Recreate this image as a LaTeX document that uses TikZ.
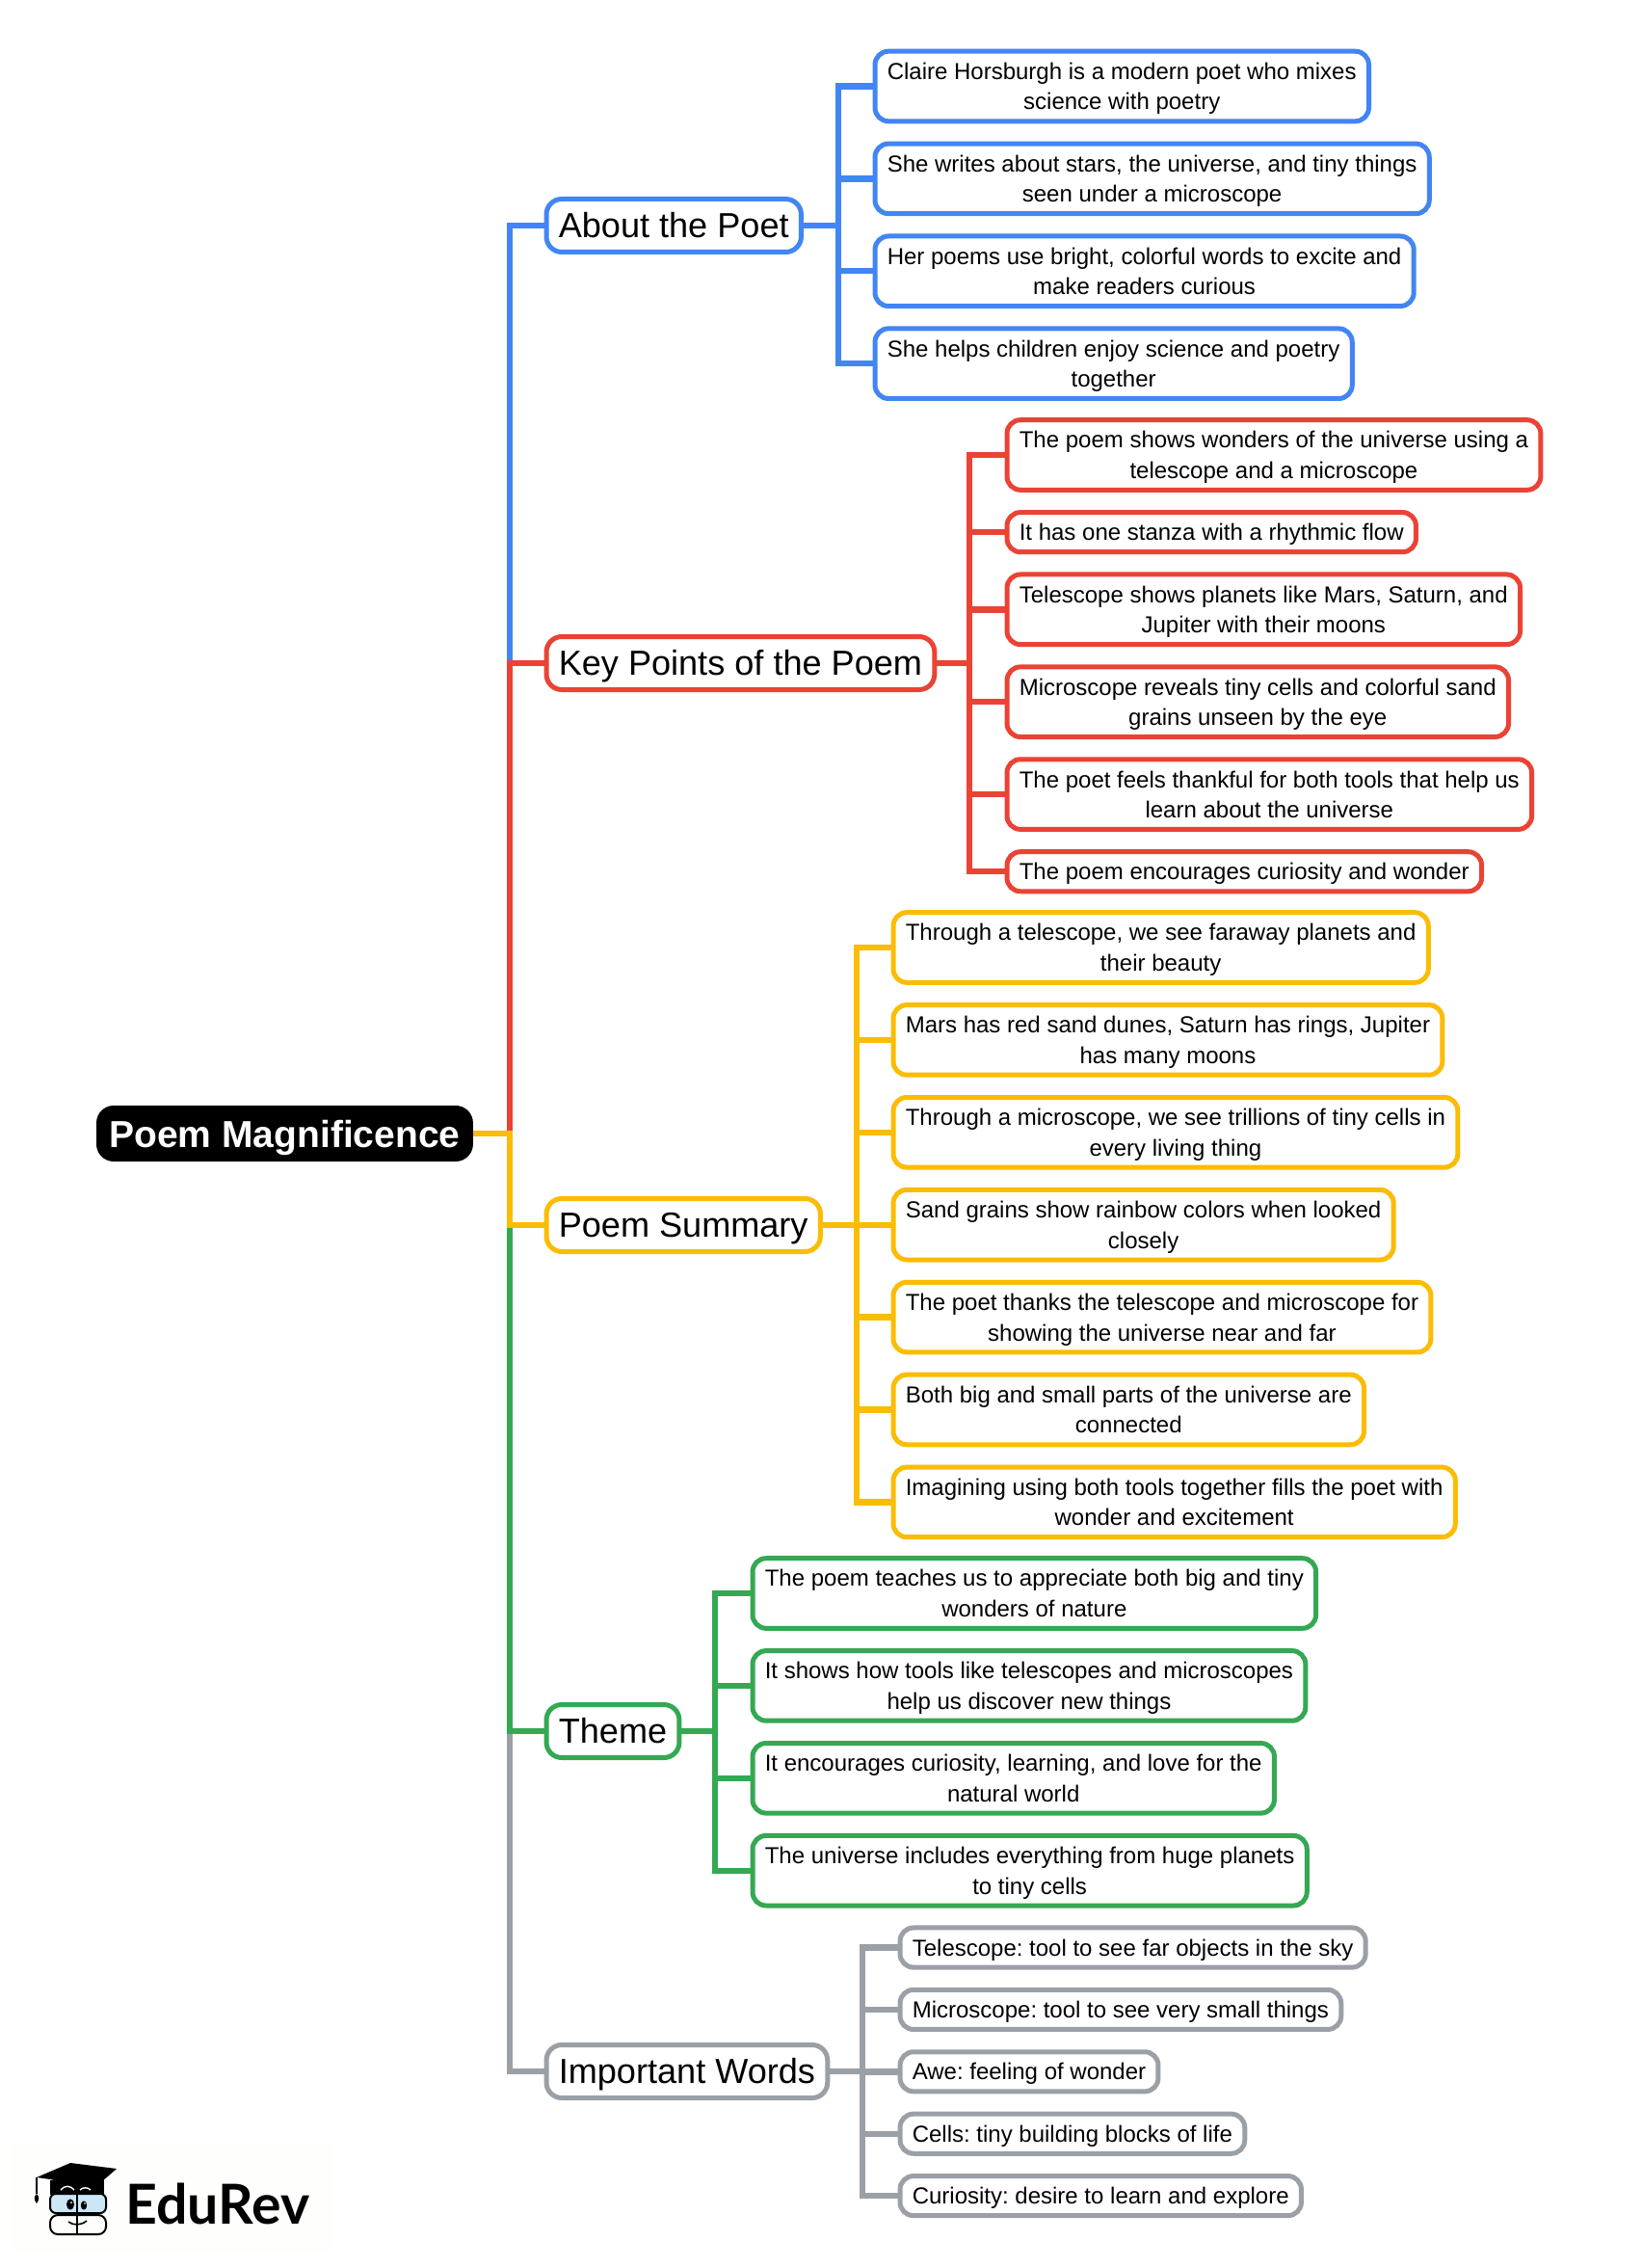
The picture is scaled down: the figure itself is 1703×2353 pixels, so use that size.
\documentclass[tikz,border=0pt]{standalone}
\usepackage{fontspec}
\setmainfont{Liberation Sans}
\newfontfamily\logofont{Lato}
\usetikzlibrary{positioning}
\definecolor{tikzBlue}{HTML}{4285F4}
\definecolor{tikzRed}{HTML}{EA4335}
\definecolor{tikzYellow}{HTML}{FBBC04}
\definecolor{tikzGreen}{HTML}{34A853}
\definecolor{tikzGrey}{HTML}{9AA0A6}
\definecolor{tikzFace}{HTML}{CBE7F6}
\definecolor{tikzPaper}{HTML}{FEFEFD}
\newcommand{\topStrut}{\rule[-3.55pt]{0pt}{15.75pt}}
\newcommand{\lowStrut}{\rule[-3.55pt]{0pt}{15.75pt}}
\newcommand{\branchStrut}{\rule[-5.6pt]{0pt}{23.5pt}}
\newcommand{\rootStrut}{\rule[-4.5pt]{0pt}{23pt}}
\tikzstyle{leaf} =[align=center, fill=white, rounded corners=7pt, line width=2.5pt, inner xsep=6.4pt, inner ysep=2.4pt, outer sep=0pt, font=\fontsize{12}{15.75}\selectfont\frenchspacing]
\tikzstyle{branch} =[anchor=west, fill=white, rounded corners=8pt, line width=2.5pt, inner xsep=6.4pt, inner ysep=2pt, outer sep=0pt, font=\fontsize{18.05}{22}\selectfont, execute at begin node=\branchStrut]
\tikzstyle{wire} =[line width=3.2pt]

\begin{document}
\begin{tikzpicture}[x=0.5pt, y=-0.5pt]
\useasboundingbox (0,0) rectangle (1703,2353);

\node (root) [anchor=west, fill=black, text=white, rounded corners=9pt, inner xsep=6.7pt, inner ysep=3pt, outer sep=0pt, font=\bfseries\fontsize{19.5}{23}\selectfont, execute at begin node=\rootStrut] at (100,1176) {Poem Magnificence};

\node (about) [branch, draw=tikzBlue] at (567,234) {About the Poet};
\node (key) [branch, draw=tikzRed] at (567,688) {Key Points of the Poem};
\node (summary) [branch, draw=tikzYellow] at (567,1271) {Poem Summary};
\node (theme) [branch, draw=tikzGreen] at (567,1796) {Theme};
\node (words) [branch, draw=tikzGrey] at (567,2149) {Important Words};

\node (aboutA) [leaf, draw=tikzBlue, anchor=west] at (908,89.5) {\topStrut Claire Horsburgh is a modern poet who mixes\\science with poetry\lowStrut};
\node (aboutB) [leaf, draw=tikzBlue, below=11.65pt of aboutA.south west, anchor=north west] {\topStrut She writes about stars, the universe, and tiny things\\seen under a microscope\lowStrut};
\node (aboutC) [leaf, draw=tikzBlue, below=11.65pt of aboutB.south west, anchor=north west] {\topStrut Her poems use bright, colorful words to excite and\\make readers curious\lowStrut};
\node (aboutD) [leaf, draw=tikzBlue, below=11.65pt of aboutC.south west, anchor=north west] {\topStrut She helps children enjoy science and poetry\\together\lowStrut};

\node (keyA) [leaf, draw=tikzRed, anchor=west] at (1045,472) {\topStrut The poem shows wonders of the universe using a\\telescope and a microscope\lowStrut};
\node (keyB) [leaf, draw=tikzRed, below=11.65pt of keyA.south west, anchor=north west] {\topStrut It has one stanza with a rhythmic flow};
\node (keyC) [leaf, draw=tikzRed, below=11.65pt of keyB.south west, anchor=north west] {\topStrut Telescope shows planets like Mars, Saturn, and\\Jupiter with their moons\lowStrut};
\node (keyD) [leaf, draw=tikzRed, below=11.65pt of keyC.south west, anchor=north west] {\topStrut Microscope reveals tiny cells and colorful sand\\grains unseen by the eye\lowStrut};
\node (keyE) [leaf, draw=tikzRed, below=11.65pt of keyD.south west, anchor=north west] {\topStrut The poet feels thankful for both tools that help us\\learn about the universe\lowStrut};
\node (keyF) [leaf, draw=tikzRed, below=11.65pt of keyE.south west, anchor=north west] {\topStrut The poem encourages curiosity and wonder};

\node (sumA) [leaf, draw=tikzYellow, anchor=west] at (927,983) {\topStrut Through a telescope, we see faraway planets and\\their beauty\lowStrut};
\node (sumB) [leaf, draw=tikzYellow, below=11.65pt of sumA.south west, anchor=north west] {\topStrut Mars has red sand dunes, Saturn has rings, Jupiter\\has many moons\lowStrut};
\node (sumC) [leaf, draw=tikzYellow, below=11.65pt of sumB.south west, anchor=north west] {\topStrut Through a microscope, we see trillions of tiny cells in\\every living thing\lowStrut};
\node (sumD) [leaf, draw=tikzYellow, below=11.65pt of sumC.south west, anchor=north west] {\topStrut Sand grains show rainbow colors when looked\\closely\lowStrut};
\node (sumE) [leaf, draw=tikzYellow, below=11.65pt of sumD.south west, anchor=north west] {\topStrut The poet thanks the telescope and microscope for\\showing the universe near and far\lowStrut};
\node (sumF) [leaf, draw=tikzYellow, below=11.65pt of sumE.south west, anchor=north west] {\topStrut Both big and small parts of the universe are\\connected\lowStrut};
\node (sumG) [leaf, draw=tikzYellow, below=11.65pt of sumF.south west, anchor=north west] {\topStrut Imagining using both tools together fills the poet with\\wonder and excitement\lowStrut};

\node (themeA) [leaf, draw=tikzGreen, anchor=west] at (781,1653) {\topStrut The poem teaches us to appreciate both big and tiny\\wonders of nature\lowStrut};
\node (themeB) [leaf, draw=tikzGreen, below=11.65pt of themeA.south west, anchor=north west] {\topStrut It shows how tools like telescopes and microscopes\\help us discover new things\lowStrut};
\node (themeC) [leaf, draw=tikzGreen, below=11.65pt of themeB.south west, anchor=north west] {\topStrut It encourages curiosity, learning, and love for the\\natural world\lowStrut};
\node (themeD) [leaf, draw=tikzGreen, below=11.65pt of themeC.south west, anchor=north west] {\topStrut The universe includes everything from huge planets\\to tiny cells\lowStrut};

\node (wordA) [leaf, draw=tikzGrey, anchor=west] at (934,2020.5) {\topStrut Telescope: tool to see far objects in the sky};
\node (wordB) [leaf, draw=tikzGrey, below=11.65pt of wordA.south west, anchor=north west] {\topStrut Microscope: tool to see very small things};
\node (wordC) [leaf, draw=tikzGrey, below=11.65pt of wordB.south west, anchor=north west] {\topStrut Awe: feeling of wonder};
\node (wordD) [leaf, draw=tikzGrey, below=11.65pt of wordC.south west, anchor=north west] {\topStrut Cells: tiny building blocks of life};
\node (wordE) [leaf, draw=tikzGrey, below=11.65pt of wordD.south west, anchor=north west] {\topStrut Curiosity: desire to learn and explore};

\coordinate (trunk) at (529,1176);
\coordinate (aboutBus) at (870,234);
\coordinate (keyBus) at (1006,688);
\coordinate (sumBus) at (889,1271);
\coordinate (themeBus) at (742,1796);
\coordinate (wordBus) at (895,2149);

% trunk
\draw[wire, tikzGrey] (trunk) |- (words.west);
\draw[wire, tikzGreen] (trunk) |- (theme.west);
\draw[wire, tikzBlue] (trunk) |- (about.west);
\draw[wire, tikzRed] (trunk) |- (key.west);
\draw[wire, tikzYellow] (root.east) -- (trunk) |- (summary.west);

% about
\draw[wire, tikzBlue] (about.east) -- (aboutBus);
\draw[wire, tikzBlue] (aboutBus) |- (aboutA.west);
\draw[wire, tikzBlue] (aboutBus) |- (aboutB.west);
\draw[wire, tikzBlue] (aboutBus) |- (aboutC.west);
\draw[wire, tikzBlue] (aboutBus) |- (aboutD.west);

% key points
\draw[wire, tikzRed] (key.east) -- (keyBus);
\draw[wire, tikzRed] (keyBus) |- (keyA.west);
\draw[wire, tikzRed] (keyBus) |- (keyB.west);
\draw[wire, tikzRed] (keyBus) |- (keyC.west);
\draw[wire, tikzRed] (keyBus) |- (keyD.west);
\draw[wire, tikzRed] (keyBus) |- (keyE.west);
\draw[wire, tikzRed] (keyBus) |- (keyF.west);

% summary
\draw[wire, tikzYellow] (summary.east) -- (sumBus);
\draw[wire, tikzYellow] (sumBus) |- (sumA.west);
\draw[wire, tikzYellow] (sumBus) |- (sumB.west);
\draw[wire, tikzYellow] (sumBus) |- (sumC.west);
\draw[wire, tikzYellow] (sumBus) |- (sumD.west);
\draw[wire, tikzYellow] (sumBus) |- (sumE.west);
\draw[wire, tikzYellow] (sumBus) |- (sumF.west);
\draw[wire, tikzYellow] (sumBus) |- (sumG.west);

% theme
\draw[wire, tikzGreen] (theme.east) -- (themeBus);
\draw[wire, tikzGreen] (themeBus) |- (themeA.west);
\draw[wire, tikzGreen] (themeBus) |- (themeB.west);
\draw[wire, tikzGreen] (themeBus) |- (themeC.west);
\draw[wire, tikzGreen] (themeBus) |- (themeD.west);

% words
\draw[wire, tikzGrey] (words.east) -- (wordBus);
\draw[wire, tikzGrey] (wordBus) |- (wordA.west);
\draw[wire, tikzGrey] (wordBus) |- (wordB.west);
\draw[wire, tikzGrey] (wordBus) |- (wordC.west);
\draw[wire, tikzGrey] (wordBus) |- (wordD.west);
\draw[wire, tikzGrey] (wordBus) |- (wordE.west);

% logo
\fill[tikzPaper] (10,2223) rectangle (347,2337);
\fill[black] (52,2262) -- (52,2277) -- (108,2277) -- (108,2262) -- cycle;
\fill[black] (38,2259) -- (73,2244) -- (121,2250) -- (98,2270) -- (52,2261) -- cycle;
\draw[white, line width=0.7pt] (63,2272) .. controls (67,2267) and (73,2267) .. (77,2272);
\draw[white, line width=0.7pt] (83,2272) .. controls (86,2269) and (91,2269) .. (94,2272);
\draw[black, line width=0.7pt] (38,2259) -- (38,2276);
\fill[black] (38,2276) .. controls (34,2280) and (36,2283) .. (38,2286) .. controls (40,2283) and (42,2280) .. (38,2276) -- cycle;
\draw[black, line width=1pt, fill=tikzFace, rounded corners=3pt] (52,2276) rectangle (110,2296);
\draw[black, line width=1pt, rounded corners=4pt] (52,2298) rectangle (110,2318);
\draw[black, line width=1pt] (80,2275) -- (80,2318);
\fill[black] (73,2287) ellipse [x radius=2pt, y radius=2.8pt];
\fill[black] (87,2288) ellipse [x radius=1.6pt, y radius=2.3pt];
\fill[white] (74,2285) circle [radius=0.5pt];
\fill[white] (88,2286) circle [radius=0.4pt];
\draw[black, line width=0.8pt] (71,2305) .. controls (76,2309) and (84,2309) .. (90,2304);
\node (logoText) [anchor=base west, inner sep=0pt, font=\logofont\bfseries\fontsize{28.6}{30}\selectfont] at (130,2307) {EduRev};
\end{tikzpicture}
\end{document}
